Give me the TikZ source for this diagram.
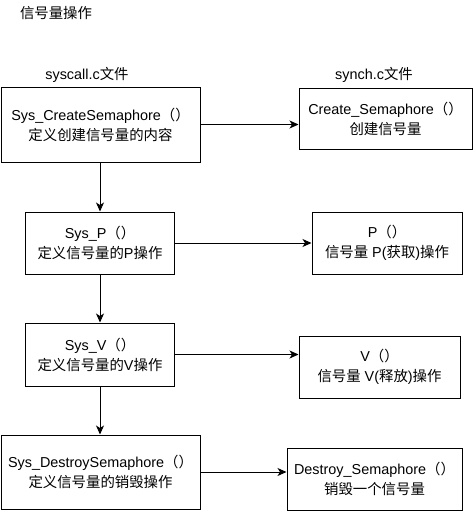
\documentclass[tikz,border=0pt]{standalone}
\usepackage{fontspec}
\setmainfont{Liberation Sans}
\newfontfamily\cjk{Noto Sans CJK SC}
\newcommand\zh[1]{{\cjk #1}}
\usetikzlibrary{arrows.meta}
\begin{document}
\begin{tikzpicture}[x=1pt,y=-1pt,
  every node/.style={font=\fontsize{14.4}{20}\selectfont},
  box/.style={draw=black, line width=1pt, fill=white, align=center, inner sep=0pt},
  lbl/.style={inner sep=0pt},
  conn/.style={line width=1pt, -{Stealth[length=9pt,width=8pt,inset=2.5pt]}}]
\clip (0,0) rectangle (474,511);
\fill[white] (0,0) rectangle (474,511);
\node[lbl] (title) at (56,13) {\zh{信号量操作}};
\node[lbl] (lsys) at (87,75) {syscall.c\zh{文件}};
\node[lbl] (lsyn) at (374,75) {synch.c\zh{文件}};
\node[box, minimum width=199pt, minimum height=75pt] (b1) at (100.5,124.5) {Sys\_CreateSemaphore\zh{（）}\\\zh{定义创建信号量的内容}};
\node[box, minimum width=173pt, minimum height=61pt] (b2) at (385.5,118.5) {Create\_Semaphore\zh{（）}\\\zh{创建信号量}};
\node[box, minimum width=149pt, minimum height=62pt] (b3) at (100,243) {Sys\_P\zh{（）}\\\zh{定义信号量的}P\zh{操作}};
\node[box, minimum width=150pt, minimum height=62pt] (b4) at (387,243) {P\zh{（）}\\\zh{信号量} P(\zh{获取})\zh{操作}};
\node[box, minimum width=149pt, minimum height=63pt] (b5) at (100,354.5) {Sys\_V\zh{（）}\\\zh{定义信号量的}V\zh{操作}};
\node[box, minimum width=161pt, minimum height=62pt] (b6) at (379.5,367) {V\zh{（）}\\\zh{信号量} V(\zh{释放})\zh{操作}};
\node[box, minimum width=199pt, minimum height=74pt] (b7) at (100.5,472) {Sys\_DestroySemaphore\zh{（）}\\\zh{定义信号量的销毁操作}};
\node[box, minimum width=175pt, minimum height=62pt, text width=175pt] (b8) at (374.5,479) {Destroy\_Semaphore\zh{（）}\\\zh{销毁一个信号量}};
\draw[conn] (b1.east) -- (b2.west |- b1.east);
\draw[conn] (b3.east) -- (b4.west |- b3.east);
\draw[conn] (b5.east) -- (b6.west |- b5.east);
\draw[conn] (b7.east) -- (b8.west |- b7.east);
\draw[conn] (b3.north |- b1.south) -- (b3.north);
\draw[conn] (b3.south) -- (b5.north);
\draw[conn] (b5.south) -- (b5.south |- b7.north);
\end{tikzpicture}
\end{document}
